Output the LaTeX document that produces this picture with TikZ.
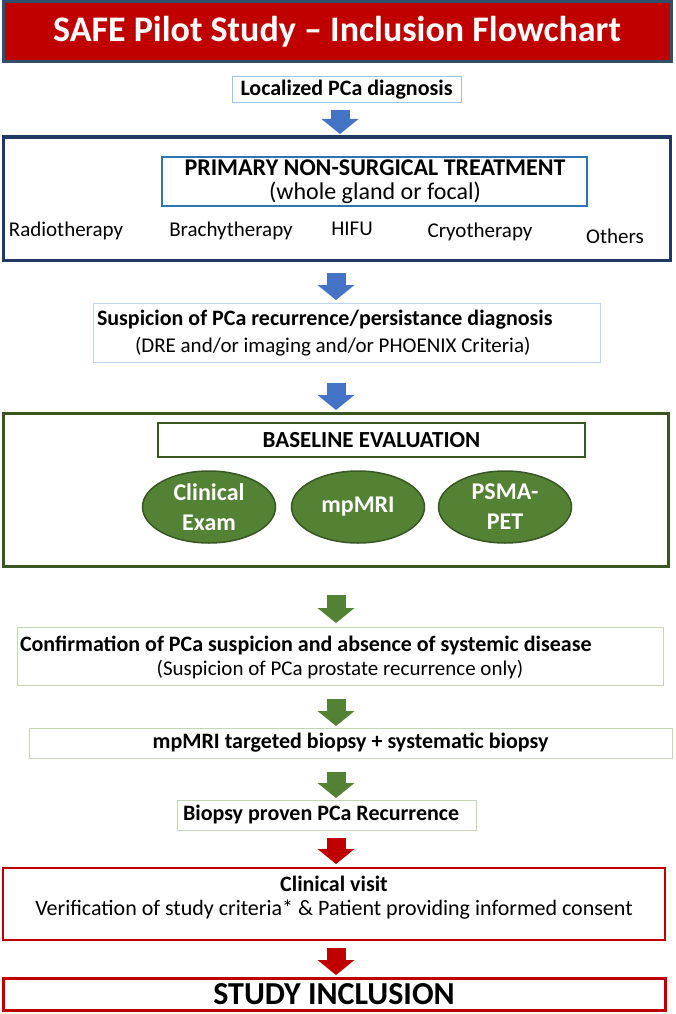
\documentclass[tikz,border=0pt]{standalone}
\usepackage{fontspec}
\setmainfont{Carlito}
\usetikzlibrary{arrows.meta,shapes.geometric}
\definecolor{titlered}{HTML}{C00000}
\definecolor{titleborder}{HTML}{2F4F6B}
\definecolor{lightblue}{HTML}{9DC3E6}
\definecolor{paleblue}{HTML}{BDD7EE}
\definecolor{navy}{HTML}{203864}
\definecolor{midblue}{HTML}{2E75B6}
\definecolor{darkgreen}{HTML}{385723}
\definecolor{ellgreen}{HTML}{548235}
\definecolor{palegreen}{HTML}{C5D6B4}
\definecolor{arrowblue}{HTML}{4472C4}
\definecolor{arrowgreen}{HTML}{548235}
\definecolor{arrowred}{HTML}{C00000}
\begin{document}
\begin{tikzpicture}[x=1pt,y=-1pt,
  every node/.style={inner sep=0pt, outer sep=0pt},
  box/.style={draw, rectangle, inner sep=0pt, outer sep=0pt},
  barrow/.style={draw=#1, line width=19pt, -{Triangle[width=37pt,length=15pt,line width=0pt,fill=#1]}},
  ell/.style={ellipse, fill=ellgreen, draw=darkgreen, line width=1.5pt, minimum width=133pt, minimum height=72pt, align=center, text=white, font=\fontsize{24}{30}\selectfont\bfseries},
  bodyb/.style={font=\fontsize{22}{22}\selectfont\bfseries},
  bodyr/.style={font=\fontsize{22}{22}\selectfont}
]
\useasboundingbox (0,0) rectangle (675,1014);

% arrow x positions
\coordinate (ax) at (340,0);
\coordinate (bx) at (336,0);

% title
\node[box, draw=titleborder, line width=3pt, fill=titlered, minimum width=668pt, minimum height=60pt, text=white, font=\fontsize{36}{36}\selectfont\bfseries] (title) at (337,32) {SAFE Pilot Study – Inclusion Flowchart};

% localized
\node[box, draw=lightblue, line width=1pt, minimum width=229pt, minimum height=26pt, bodyb] (loc) at (346.5,90) {Localized PCa diagnosis};

% primary treatment
\node[box, draw=navy, line width=3pt, minimum width=667pt, minimum height=123pt] (prim) at (336.5,198.5) {};
\node[box, draw=midblue, line width=2pt, minimum width=425pt, minimum height=49pt] (primin) at (374.5,181.5) {};
\node[font=\fontsize{24}{24}\selectfont\bfseries] (primt1) at (375,168) {PRIMARY NON-SURGICAL TREATMENT};
\node[font=\fontsize{24}{24}\selectfont] (primt2) at (375,193) {(whole gland or focal)};
\node[font=\fontsize{21}{21}\selectfont] (t1) at (66,231) {Radiotherapy};
\node[font=\fontsize{21}{21}\selectfont] (t2) at (231,231) {Brachytherapy};
\node[font=\fontsize{21}{21}\selectfont] (t3) at (352,229) {HIFU};
\node[font=\fontsize{21}{21}\selectfont] (t4) at (480,232) {Cryotherapy};
\node[font=\fontsize{21}{21}\selectfont] (t5) at (615,236) {Others};

% suspicion
\node[box, draw=paleblue, line width=1pt, minimum width=507pt, minimum height=59pt] (susp) at (346.5,332.5) {};
\node[bodyb, anchor=west] (susp1) at (97,320) {Suspicion of PCa recurrence/persistance diagnosis};
\node[font=\fontsize{21}{21}\selectfont, anchor=west] (susp2) at (135,347) {(DRE and/or imaging and/or PHOENIX Criteria)};

% baseline
\node[box, draw=darkgreen, line width=3pt, minimum width=665pt, minimum height=153pt] (base) at (335.5,489.5) {};
\node[box, draw=darkgreen, line width=2pt, minimum width=427pt, minimum height=34pt, font=\fontsize{23}{23}\selectfont\bfseries] (basein) at (371.5,440) {BASELINE EVALUATION};
\node[ell] (e1) at (209,507) {Clinical\\Exam};
\node[ell] (e2) at (358,507) {mpMRI};
\node[ell] (e3) at (505,507) {PSMA-\\PET};

% confirmation
\node[box, draw=palegreen, line width=1pt, minimum width=646pt, minimum height=58pt] (conf) at (340,656) {};
\node[bodyb, anchor=west] (conf1) at (20,645) {Confirmation of PCa suspicion and absence of systemic disease};
\node[font=\fontsize{21}{21}\selectfont] (conf2) at (340,670) {(Suspicion of PCa prostate recurrence only)};

% biopsy
\node[box, draw=palegreen, line width=1pt, minimum width=643pt, minimum height=30pt, bodyb] (bio) at (350.5,743) {mpMRI targeted biopsy + systematic biopsy};

% biopsy proven
\node[box, draw=palegreen, line width=1pt, minimum width=299pt, minimum height=30pt] (proven) at (326.5,815) {};
\node[bodyb, anchor=west] (proventxt) at (183,815) {Biopsy proven PCa Recurrence};

% clinical visit
\node[box, draw=arrowred, line width=2pt, minimum width=662pt, minimum height=72pt] (visit) at (334,904) {};
\node[bodyb] (visit1) at (334,884) {Clinical visit};
\node[bodyr] (visit2) at (334,910) {Verification of study criteria* \& Patient providing informed consent};

% study inclusion
\node[box, draw=arrowred, line width=3pt, minimum width=662pt, minimum height=32pt, font=\fontsize{32}{32}\selectfont\bfseries] (incl) at (334,994) {STUDY INCLUSION};

% arrows
\draw[barrow=arrowblue, shorten <=7pt, shorten >=3pt] (loc.south -| ax) -- (prim.north -| ax);
\draw[barrow=arrowblue, shorten <=13pt, shorten >=3pt] (prim.south -| bx) -- (susp.north -| bx);
\draw[barrow=arrowblue, shorten <=21pt, shorten >=3pt] (susp.south -| bx) -- (base.north -| bx);
\draw[barrow=arrowgreen, shorten <=29pt, shorten >=4pt] (base.south -| bx) -- (conf.north -| bx);
\draw[barrow=arrowgreen, shorten <=14pt, shorten >=2pt] (conf.south -| bx) -- (bio.north -| bx);
\draw[barrow=arrowgreen, shorten <=14pt, shorten >=2pt] (bio.south -| bx) -- (proven.north -| bx);
\draw[barrow=arrowred, shorten <=8pt, shorten >=4pt] (proven.south -| bx) -- (visit.north -| bx);
\draw[barrow=arrowred, shorten <=8pt, shorten >=3pt] (visit.south -| bx) -- (incl.north -| bx);
\end{tikzpicture}
\end{document}
